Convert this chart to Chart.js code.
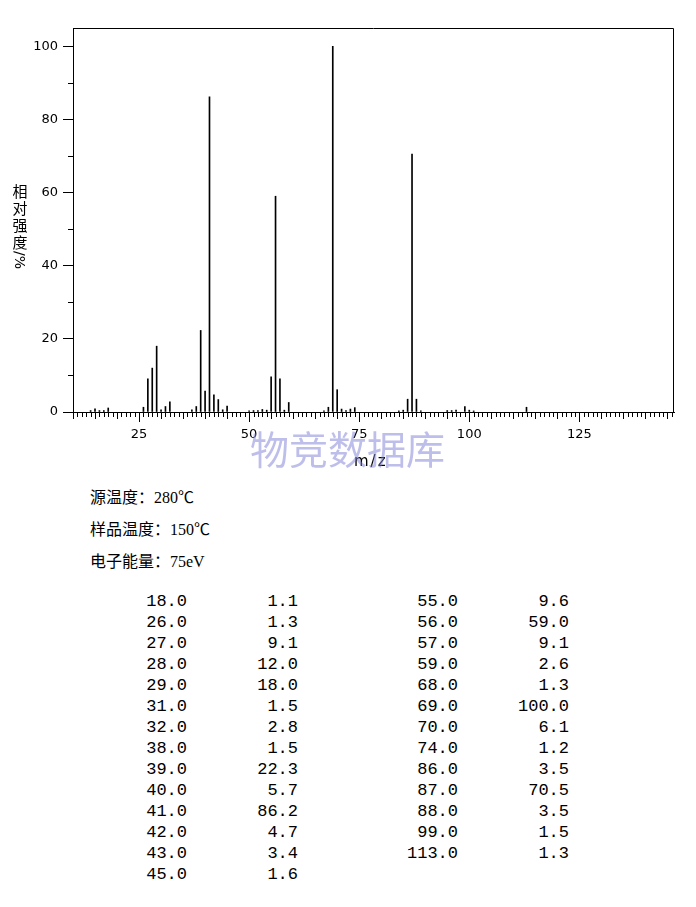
<!DOCTYPE html>
<html lang="zh">
<head>
    <meta charset="UTF-8">
    <title>质谱图</title>
    <script src="https://cdn.jsdelivr.net/npm/chart.js"></script>
    <style>
        body { margin: 0; background: #fff; }
        #page { position: relative; width: 696px; height: 907px; overflow: hidden; }
        #chartBox { position: absolute; left: 0; top: 0; width: 696px; height: 480px; }
        .abs { position: absolute; white-space: nowrap; color: #000; }
        #ytitle { left: 12px; top: 182px; width: 16px; font: 15px "Noto Sans CJK SC"; line-height: 17px; text-align: center; }
        #ytitle .rot { display: block; transform: rotate(90deg); font: 14px "DejaVu Sans"; line-height: 12px; margin-top: 3px; }
        #xtitle { left: 354px; top: 452px; font: 15px "DejaVu Sans"; letter-spacing: 2px; }
        #watermark { left: 250px; top: 419px; font: 39px "Noto Sans CJK SC"; color: rgba(125, 125, 215, 0.5); }
        .info { left: 90px; font: 16px "Liberation Serif", "Noto Sans CJK SC"; }
        .cell { font: 17px "Liberation Mono"; text-align: right; line-height: 21px; }
    </style>
</head>
<body>
<div id="page">
    <div id="chartBox"><canvas id="myChart"></canvas></div>
    <div id="ytitle" class="abs">相<br>对<br>强<br>度<span class="rot">/%</span></div>
    <div id="xtitle" class="abs">m/z</div>
    <div id="watermark" class="abs">物竞数据库</div>
    <div class="abs info" style="top:484px">源温度：280℃</div>
    <div class="abs info" style="top:516px">样品温度：150℃</div>
    <div class="abs info" style="top:548px">电子能量：75eV</div>
    <div id="table"></div>
</div>

<script>
    // peaks listed in the table
    const tableMz = [18, 26, 27, 28, 29, 31, 32, 38, 39, 40, 41, 42, 43, 45,
                     55, 56, 57, 59, 68, 69, 70, 74, 86, 87, 88, 99, 113];
    const tableInt = [1.1, 1.3, 9.1, 12.0, 18.0, 1.5, 2.8, 1.5, 22.3, 5.7, 86.2, 4.7, 3.4, 1.6,
                      9.6, 59.0, 9.1, 2.6, 1.3, 100.0, 6.1, 1.2, 3.5, 70.5, 3.5, 1.5, 1.3];
    // small peaks only seen in the spectrum (estimated)
    const minorMz = [14, 15, 16, 17, 30, 37, 44, 50, 51, 52, 53, 54, 58, 67, 71, 72, 73, 84, 85, 89, 95, 96, 97, 100, 101];
    const minorInt = [0.4, 0.9, 0.4, 0.4, 0.6, 0.6, 0.6, 0.3, 0.4, 0.4, 0.7, 0.5, 0.5, 0.3, 0.8, 0.4, 0.8, 0.3, 0.5, 0.3, 0.4, 0.4, 0.5, 0.5, 0.3];

    const xTicks = [25, 50, 75, 100, 125];
    const yTicks = [0, 20, 40, 60, 80, 100];
    const leftRows = 14;

    // table below the chart
    const table = document.getElementById('table');
    function addCell(text, right, top) {
        const d = document.createElement('div');
        d.className = 'abs cell';
        d.style.right = (696 - right) + 'px';
        d.style.top = top + 'px';
        d.textContent = text;
        table.appendChild(d);
    }
    tableMz.forEach((m, i) => {
        const col = i < leftRows ? 0 : 1;
        const row = i < leftRows ? i : i - leftRows;
        const top = 591 + row * 21;
        addCell(m.toFixed(1), col ? 458 : 187, top);
        addCell(tableInt[i].toFixed(1), col ? 569 : 298, top);
    });

    const points = [];
    tableMz.forEach((m, i) => points.push({ x: m, y: tableInt[i] }));
    minorMz.forEach((m, i) => points.push({ x: m, y: minorInt[i] }));
    points.sort((a, b) => a.x - b.x);

    // frame + minor tick marks
    const frame = {
        id: 'frame',
        afterDraw(chart) {
            const { ctx, chartArea: a, scales: { x, y } } = chart;
            ctx.save();
            ctx.strokeStyle = '#000';
            ctx.lineWidth = 1;
            ctx.beginPath();
            ctx.moveTo(Math.round(a.left) + 0.5, Math.round(a.top) + 0.5);
            ctx.lineTo(Math.round(a.right) - 0.5, Math.round(a.top) + 0.5);
            ctx.lineTo(Math.round(a.right) - 0.5, Math.round(a.bottom));
            for (let v = 10; v <= 146; v++) {
                if (v % 25 === 0) continue;
                const px = Math.round(x.getPixelForValue(v)) + 0.5;
                const len = v % 5 === 0 ? 7 : 5;
                ctx.moveTo(px, a.bottom);
                ctx.lineTo(px, a.bottom + len);
            }
            for (let v = 10; v < 100; v += 20) {
                const py = Math.round(y.getPixelForValue(v)) + 0.5;
                ctx.moveTo(a.left, py);
                ctx.lineTo(a.left - 5, py);
            }
            ctx.stroke();
            ctx.restore();
        }
    };

    const ctx = document.getElementById('myChart').getContext('2d');
    const myChart = new Chart(ctx, {
        type: 'bar',
        data: {
            datasets: [{
                data: points,
                backgroundColor: '#000',
                barThickness: 1
            }]
        },
        options: {
            responsive: true,
            maintainAspectRatio: false,
            animation: false,
            layout: { padding: { left: 0, top: 28, right: 22, bottom: 0 } },
            plugins: { legend: { display: false }, tooltip: { enabled: false } },
            scales: {
                x: {
                    type: 'linear',
                    min: 10,
                    max: 146.5,
                    offset: false,
                    afterBuildTicks: s => { s.ticks = xTicks.map(v => ({ value: v })); },
                    afterFit: s => { s.height = 68; },
                    grid: { drawOnChartArea: false, offset: false, tickLength: 10, tickColor: '#000' },
                    border: { color: '#000', width: 1 },
                    ticks: { color: '#000', padding: 5, maxRotation: 0, font: { family: 'DejaVu Sans', size: 13 } }
                },
                y: {
                    min: 0,
                    max: 105,
                    afterBuildTicks: s => { s.ticks = yTicks.map(v => ({ value: v })); },
                    afterFit: s => { s.width = 73; },
                    grid: { drawOnChartArea: false, tickLength: 10, tickColor: '#000' },
                    border: { color: '#000', width: 1 },
                    ticks: { color: '#000', padding: 5, font: { family: 'DejaVu Sans', size: 13 } }
                }
            }
        },
        plugins: [frame]
    });
</script>
</body>
</html>
